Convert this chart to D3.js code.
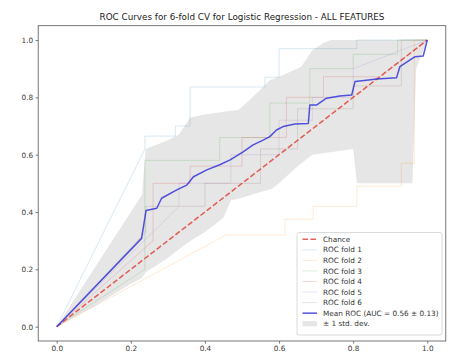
<!DOCTYPE html>
<html><head><meta charset="utf-8">
<script src="https://cdn.jsdelivr.net/npm/d3@7"></script>
<style>body{margin:0;background:#fff}svg{display:block;font-family:"DejaVu Sans",sans-serif}</style>
</head><body><svg id="c" width="474" height="363"></svg>
<script>
// ---------- data ----------
const chartTitle = "ROC Curves for 6-fold CV for Logistic Regression - ALL FEATURES";
const xTicks = [0.0, 0.2, 0.4, 0.6, 0.8, 1.0];
const yTicks = [0.0, 0.2, 0.4, 0.6, 0.8, 1.0];
const foldNames = ["ROC fold 1", "ROC fold 2", "ROC fold 3", "ROC fold 4", "ROC fold 5", "ROC fold 6"];
const foldColors = ["#1f77b4", "#ff7f0e", "#2ca02c", "#d62728", "#9467bd", "#8c564b"];
const chanceLabel = "Chance";
const meanLabel = "Mean ROC (AUC = 0.56 \u00b1 0.13)";
const bandLabel = "\u00b1 1 std. dev.";

const fold1Fpr = [0, 0.238, 0.238, 0.32, 0.32, 0.36, 0.36, 0.562, 0.562, 0.60, 0.60, 0.81, 0.81, 1];
const fold1Tpr = [0, 0.62, 0.665, 0.665, 0.70, 0.70, 0.836, 0.836, 0.87, 0.87, 0.97, 0.97, 1, 1];
const fold2Fpr = [0, 0.457, 0.616, 0.616, 0.692, 0.692, 0.81, 0.81, 0.93, 0.93, 0.965, 0.965, 1];
const fold2Tpr = [0, 0.32, 0.32, 0.375, 0.375, 0.42, 0.42, 0.49, 0.49, 0.57, 0.57, 1, 1];
const fold3Fpr = [0, 0.238, 0.238, 0.44, 0.44, 0.575, 0.575, 0.683, 0.683, 0.80, 0.80, 0.92, 0.92, 1];
const fold3Tpr = [0, 0.20, 0.58, 0.58, 0.66, 0.66, 0.78, 0.78, 0.90, 0.90, 0.95, 0.95, 1, 1];
const fold4Fpr = [0, 0.26, 0.26, 0.36, 0.36, 0.50, 0.50, 0.62, 0.62, 0.72, 0.72, 0.872, 1];
const fold4Tpr = [0, 0.30, 0.50, 0.50, 0.56, 0.56, 0.66, 0.66, 0.80, 0.80, 0.872, 0.872, 1];
const fold5Fpr = [0, 0.33, 0.33, 0.47, 0.47, 0.60, 0.60, 0.69, 0.69, 0.80, 0.80, 1];
const fold5Tpr = [0, 0.42, 0.50, 0.50, 0.60, 0.60, 0.72, 0.72, 0.80, 0.80, 0.90, 1];
const fold6Fpr = [0, 0.24, 0.24, 0.40, 0.40, 0.55, 0.55, 0.65, 0.65, 0.80, 0.80, 0.93, 0.93, 1];
const fold6Tpr = [0, 0.33, 0.42, 0.42, 0.50, 0.50, 0.62, 0.62, 0.76, 0.76, 0.84, 0.84, 1, 1];

const meanFpr = [0, 0.229, 0.241, 0.27, 0.283, 0.324, 0.351, 0.369, 0.405, 0.44, 0.468, 0.503, 0.53, 0.557, 0.575, 0.593, 0.611, 0.643, 0.679, 0.683, 0.701, 0.728, 0.764, 0.796, 0.805, 0.836, 0.863, 0.917, 0.926, 0.967, 0.989, 1];
const meanTpr = [0, 0.308, 0.405, 0.413, 0.448, 0.477, 0.494, 0.523, 0.547, 0.565, 0.582, 0.61, 0.634, 0.651, 0.663, 0.686, 0.698, 0.707, 0.709, 0.773, 0.773, 0.797, 0.805, 0.808, 0.855, 0.86, 0.864, 0.868, 0.907, 0.942, 0.944, 1];

const upperFpr = [0, 0.10, 0.20, 0.23, 0.24, 0.30, 0.33, 0.36, 0.40, 0.45, 0.49, 0.52, 0.557, 0.575, 0.60, 0.66, 0.69, 0.72, 0.74, 1];
const upperTpr = [0, 0.20, 0.40, 0.46, 0.62, 0.65, 0.67, 0.73, 0.74, 0.75, 0.756, 0.79, 0.836, 0.86, 0.872, 0.907, 0.965, 0.99, 1, 1];
const lowerFpr = [0, 0.10, 0.20, 0.23, 0.24, 0.30, 0.35, 0.40, 0.45, 0.47, 0.50, 0.55, 0.58, 0.60, 0.65, 0.69, 0.80, 0.81, 0.93, 0.96, 0.97, 1];
const lowerTpr = [0, 0.07, 0.15, 0.17, 0.19, 0.24, 0.29, 0.33, 0.38, 0.44, 0.45, 0.47, 0.48, 0.50, 0.56, 0.60, 0.62, 0.50, 0.50, 0.50, 0.90, 1];

// ---------- drawing ----------
const folds = [
  [fold1Fpr, fold1Tpr], [fold2Fpr, fold2Tpr], [fold3Fpr, fold3Tpr],
  [fold4Fpr, fold4Tpr], [fold5Fpr, fold5Tpr], [fold6Fpr, fold6Tpr]
].map(([f, t]) => f.map((v, i) => [v, t[i]]));

const svg = d3.select("#c");
const L = 38.2, R = 445.8, T = 25.7, B = 341;
const x = d3.scaleLinear().domain([-0.05, 1.05]).range([L, R]);
const y = d3.scaleLinear().domain([-0.05, 1.05]).range([B, T]);

svg.append("defs").append("clipPath").attr("id", "clip")
  .append("rect").attr("x", L).attr("y", T).attr("width", R - L).attr("height", B - T);

const plot = svg.append("g").attr("clip-path", "url(#clip)");
const line = d3.line().x(d => x(d[0])).y(d => y(d[1]));

const meanColor = "#3535d8", chanceColor = "#e23a2e";
const foldOpacity = 0.22;

// std band
const bandPoly = upperFpr.map((v, i) => [v, upperTpr[i]])
  .concat(lowerFpr.map((v, i) => [v, lowerTpr[i]]).reverse());
plot.append("path").attr("d", line(bandPoly) + "Z")
  .attr("fill", "#808080").attr("fill-opacity", 0.2).attr("stroke", "none");

// folds
folds.forEach((pts, i) => {
  plot.append("path").attr("d", line(pts)).attr("fill", "none")
    .attr("stroke", foldColors[i]).attr("stroke-opacity", foldOpacity).attr("stroke-width", 0.8);
});

// chance
plot.append("path").attr("d", line([[0, 0], [1, 1]])).attr("fill", "none")
  .attr("stroke", chanceColor).attr("stroke-opacity", 0.8).attr("stroke-width", 1.5)
  .attr("stroke-dasharray", "5.5,2.4");

// mean
plot.append("path").attr("d", line(meanFpr.map((v, i) => [v, meanTpr[i]]))).attr("fill", "none")
  .attr("stroke", meanColor).attr("stroke-opacity", 0.85).attr("stroke-width", 1.5)
  .attr("stroke-linejoin", "round");

// axes
const fmt = d3.format(".1f");
const xAxis = svg.append("g").attr("transform", `translate(0,${B})`)
  .call(d3.axisBottom(x).tickValues(xTicks).tickFormat(fmt).tickSize(2.6).tickPadding(2.5));
const yAxis = svg.append("g").attr("transform", `translate(${L},0)`)
  .call(d3.axisLeft(y).tickValues(yTicks).tickFormat(fmt).tickSize(2.6).tickPadding(2.5));
[xAxis, yAxis].forEach(a => {
  a.select(".domain").remove();
  a.selectAll("line").attr("stroke", "#444").attr("stroke-width", 0.7);
  a.selectAll("text").attr("fill", "#3a3a3a").style("font-size", "7.3px").style("font-family", "DejaVu Sans");
});

// frame
svg.append("rect").attr("x", L).attr("y", T).attr("width", R - L).attr("height", B - T)
  .attr("fill", "none").attr("stroke", "#555").attr("stroke-width", 0.8);

// title
svg.append("text").attr("x", (L + R) / 2).attr("y", 20).attr("text-anchor", "middle")
  .style("font-size", "8.8px").attr("fill", "#222").text(chartTitle);

// legend
const lg = svg.append("g");
lg.append("rect").attr("x", 297).attr("y", 232.5).attr("width", 145).attr("height", 102.5)
  .attr("rx", 2).attr("fill", "#fff").attr("fill-opacity", 0.8)
  .attr("stroke", "#d0d0d0").attr("stroke-width", 0.8);
const rowY = i => 239.3 + i * 10.55;
const hx0 = 302.5, hx1 = 317, tx = 323;
const entries = [{label: chanceLabel, type: "chance"}]
  .concat(foldNames.map((n, i) => ({label: n, type: "fold", i})))
  .concat([{label: meanLabel, type: "mean"}, {label: bandLabel, type: "band"}]);
entries.forEach((e, k) => {
  const yy = rowY(k);
  if (e.type === "band") {
    lg.append("rect").attr("x", hx0).attr("y", yy - 2.6).attr("width", hx1 - hx0).attr("height", 5.2)
      .attr("fill", "#808080").attr("fill-opacity", 0.2);
  } else {
    const ln = lg.append("line").attr("x1", hx0).attr("x2", hx1).attr("y1", yy).attr("y2", yy);
    if (e.type === "chance") ln.attr("stroke", chanceColor).attr("stroke-opacity", 0.8).attr("stroke-width", 1.5).attr("stroke-dasharray", "5.5,2.4");
    else if (e.type === "mean") ln.attr("stroke", meanColor).attr("stroke-opacity", 0.85).attr("stroke-width", 1.5);
    else ln.attr("stroke", foldColors[e.i]).attr("stroke-opacity", foldOpacity).attr("stroke-width", 0.8);
  }
  lg.append("text").attr("x", tx).attr("y", yy).attr("dy", "0.35em")
    .style("font-size", "7.3px").attr("fill", "#333").text(e.label);
});
</script>
</body></html>
